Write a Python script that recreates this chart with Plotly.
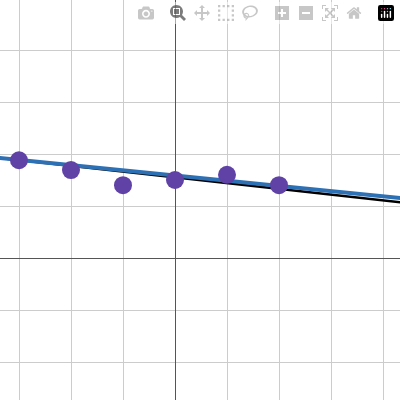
import plotly.graph_objects as go

x_pts = [-3, -2, -1, 0, 1, 2]
y_pts = [1.88, 1.69, 1.40, 1.50, 1.60, 1.40]

line_x = [-3.4, 4.4]
fit_y = [1.927, 1.147]      # blue fit line
black_y = [1.927, 1.065]    # black line underneath

x_range = [-175 / 52, 225 / 52]
y_range = [-142 / 52, 258 / 52]

fig = go.Figure()
fig.add_trace(go.Scatter(x=line_x, y=black_y, mode="lines",
                         line=dict(color="black", width=2.5)))
fig.add_trace(go.Scatter(x=line_x, y=fit_y, mode="lines",
                         line=dict(color="#2d70b3", width=4)))
fig.add_trace(go.Scatter(x=x_pts, y=y_pts, mode="markers",
                         marker=dict(color="#6042a6", size=18)))

axis = dict(showgrid=True, gridcolor="#cccccc", gridwidth=1, dtick=1,
            zeroline=True, zerolinecolor="#555555", zerolinewidth=1.2,
            showticklabels=False, ticks="", showline=False)
fig.update_xaxes(range=x_range, **axis)
fig.update_yaxes(range=y_range, **axis)
fig.update_layout(width=400, height=400, margin=dict(l=0, r=0, t=0, b=0),
                  plot_bgcolor="white", paper_bgcolor="white", showlegend=False)
fig.write_html("out.html", post_script="document.body.style.margin='0';")
